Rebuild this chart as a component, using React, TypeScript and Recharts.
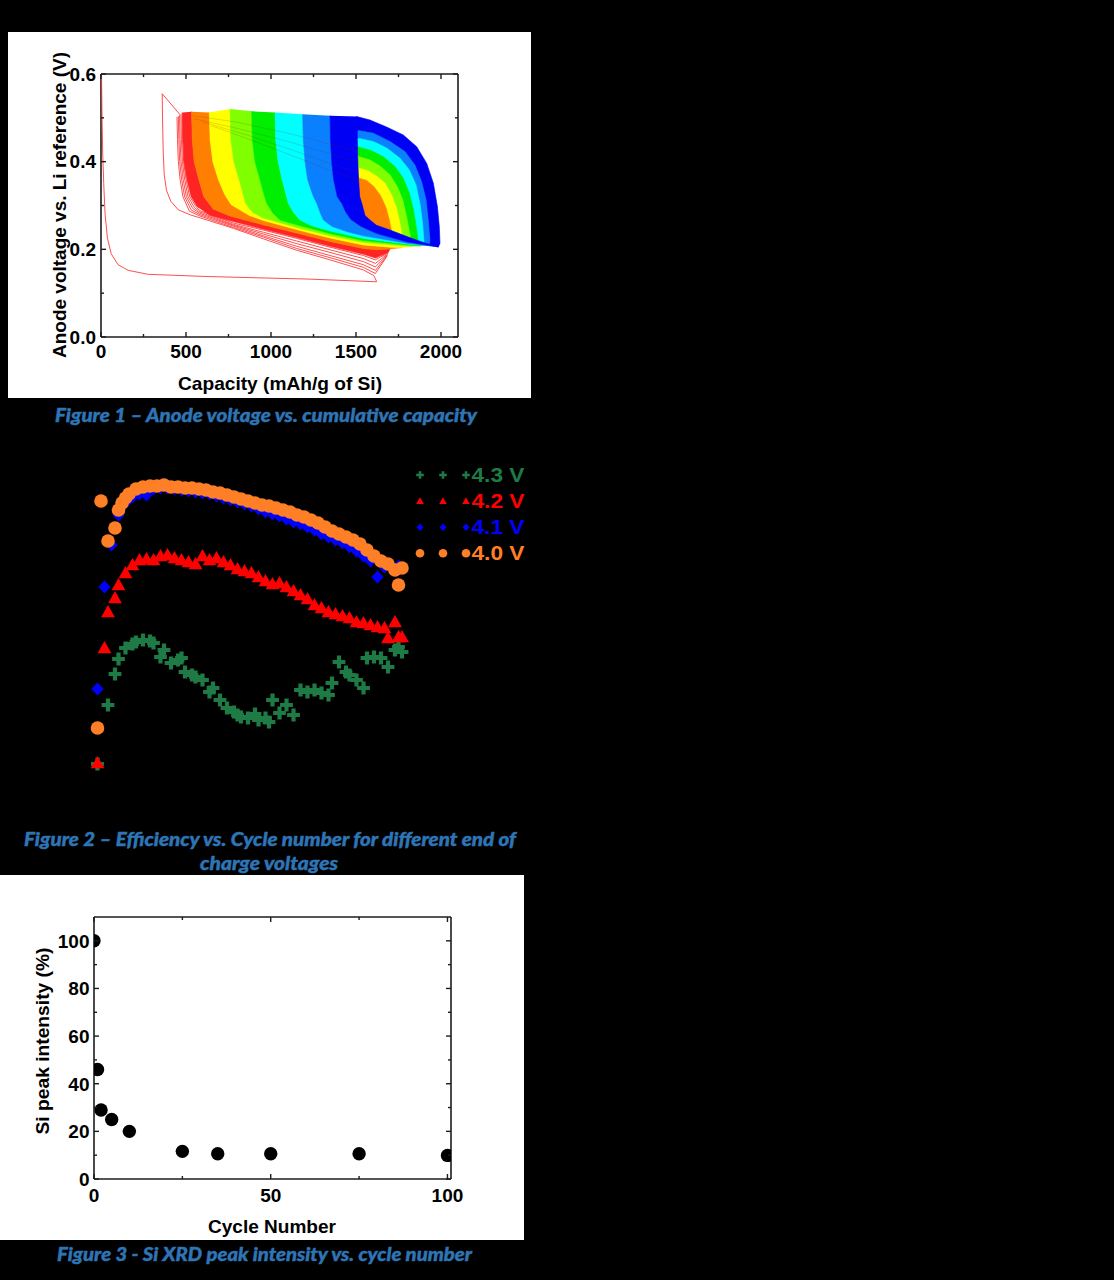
import React from "react";
import { ScatterChart, Scatter, XAxis, YAxis } from "recharts";

type P = [number, number];
const pts = (a: P[]) => a.map(([x, y]) => ({ x, y }));

const FONT = '"Liberation Sans", Arial, sans-serif';
const CAPTION_FONT = 'Lato, "Open Sans", sans-serif';
const CAPTION_COLOR = "#2e75b6";
const INK = "#1c1c1c";
const FRAME = { stroke: INK, strokeWidth: 1.6 };

// ---------------- Figure 1: anode voltage vs capacity ----------------
const capTicks = [0, 250, 500, 750, 1000, 1250, 1500, 1750, 2000];
const capMajor = [0, 500, 1000, 1500, 2000];
const voltTicks = [0, 0.1, 0.2, 0.3, 0.4, 0.5, 0.6];
const voltMajor = [0, 0.2, 0.4, 0.6];

// first cycle and the early, well separated red cycles
const firstLith: P[] = [[3, 0.6], [6, 0.5], [10, 0.42], [16, 0.35], [24, 0.28], [38, 0.225], [60, 0.19], [100, 0.165], [160, 0.152], [278, 0.143], [623, 0.138], [1230, 0.132], [1620, 0.126]];
const firstDelith: P[] = [[1622, 0.126], [1605, 0.14], [1543, 0.153], [1347, 0.176], [1151, 0.198], [955, 0.224], [778, 0.248], [582, 0.272], [530, 0.278], [455, 0.29], [410, 0.31], [385, 0.335], [372, 0.37], [366, 0.42], [362, 0.5], [360, 0.555], [465, 0.507]];
const early1: P[] = [[477, 0.51], [480, 0.45], [486, 0.4], [500, 0.36], [522, 0.32], [560, 0.297], [582, 0.288], [778, 0.26], [955, 0.244], [1151, 0.225], [1347, 0.205], [1543, 0.186], [1614, 0.176], [1690, 0.192]];
const early2: P[] = [[470, 0.508], [473, 0.45], [479, 0.4], [492, 0.36], [512, 0.32], [550, 0.295], [582, 0.285], [778, 0.257], [955, 0.239], [1151, 0.219], [1347, 0.199], [1543, 0.179], [1614, 0.168], [1688, 0.19]];
const early3: P[] = [[462, 0.506], [465, 0.45], [471, 0.4], [483, 0.36], [502, 0.32], [540, 0.293], [582, 0.282], [778, 0.255], [955, 0.235], [1151, 0.213], [1347, 0.193], [1543, 0.172], [1614, 0.16], [1686, 0.188]];
const early4: P[] = [[455, 0.504], [458, 0.45], [463, 0.4], [474, 0.36], [492, 0.32], [530, 0.29], [582, 0.279], [778, 0.253], [955, 0.231], [1151, 0.207], [1347, 0.186], [1543, 0.165], [1614, 0.152], [1684, 0.186]];
const early5: P[] = [[447, 0.502], [450, 0.45], [455, 0.4], [465, 0.36], [482, 0.32], [520, 0.287], [582, 0.276], [778, 0.25], [955, 0.228], [1151, 0.202], [1347, 0.181], [1543, 0.159], [1614, 0.145], [1682, 0.184]];

// lithiation curves bounding each colour band (left/lower edge of each band)
const edgeRed: P[] = [[478, 0.512], [482, 0.45], [488, 0.4], [505, 0.36], [530, 0.32], [565, 0.298], [640, 0.278], [759, 0.265], [955, 0.246], [1151, 0.227], [1347, 0.207], [1543, 0.189], [1615, 0.18], [1690, 0.193]];
const edgeOrange: P[] = [[533, 0.514], [537, 0.45], [548, 0.4], [575, 0.36], [605, 0.32], [660, 0.292], [759, 0.276], [955, 0.256], [1151, 0.237], [1347, 0.218], [1543, 0.202], [1622, 0.199], [1700, 0.201]];
const edgeYellow: P[] = [[637, 0.512], [642, 0.45], [658, 0.4], [690, 0.36], [728, 0.325], [765, 0.302], [870, 0.278], [955, 0.266], [1151, 0.245], [1347, 0.226], [1543, 0.21], [1700, 0.205], [1770, 0.204]];
const edgeLime: P[] = [[759, 0.52], [764, 0.45], [782, 0.4], [812, 0.36], [830, 0.335], [850, 0.305], [890, 0.285], [950, 0.272], [1151, 0.25], [1347, 0.231], [1543, 0.216], [1750, 0.209], [1830, 0.207]];
const edgeGreen: P[] = [[886, 0.515], [890, 0.45], [906, 0.4], [935, 0.36], [955, 0.33], [975, 0.305], [1010, 0.283], [1053, 0.267], [1151, 0.256], [1347, 0.236], [1543, 0.22], [1800, 0.21], [1880, 0.208]];
const edgeCyan: P[] = [[1024, 0.512], [1028, 0.45], [1042, 0.4], [1065, 0.36], [1085, 0.33], [1102, 0.305], [1135, 0.283], [1171, 0.267], [1240, 0.254], [1347, 0.242], [1543, 0.225], [1800, 0.212], [1910, 0.209]];
const edgeAzure: P[] = [[1186, 0.508], [1190, 0.45], [1200, 0.4], [1215, 0.36], [1229, 0.343], [1250, 0.32], [1269, 0.305], [1290, 0.283], [1308, 0.267], [1360, 0.252], [1450, 0.24], [1543, 0.231], [1800, 0.214], [1940, 0.208]];
const edgeBlue: P[] = [[1347, 0.505], [1350, 0.45], [1357, 0.4], [1368, 0.36], [1390, 0.32], [1416, 0.305], [1440, 0.285], [1470, 0.268], [1530, 0.252], [1622, 0.236], [1800, 0.217], [1960, 0.207]];
const edgeEnd: P[] = [[1506, 0.503], [1508, 0.45], [1511, 0.4], [1515, 0.36], [1522, 0.32], [1534, 0.305], [1553, 0.277], [1582, 0.267], [1620, 0.255], [1700, 0.244], [1800, 0.229], [1900, 0.215], [1984, 0.206]];

// delithiation arcs seen right of 1500 mAh/g (outer edge of each ring)
const arcBlue: P[] = [[1504, 0.503], [1582, 0.495], [1680, 0.479], [1778, 0.461], [1857, 0.434], [1916, 0.396], [1955, 0.351], [1979, 0.297], [1990, 0.252], [1994, 0.214], [1984, 0.205]];
const arcAzure: P[] = [[1514, 0.471], [1602, 0.465], [1700, 0.446], [1788, 0.423], [1847, 0.392], [1886, 0.354], [1912, 0.313], [1925, 0.267], [1935, 0.221], [1931, 0.21]];
const arcCyan: P[] = [[1520, 0.453], [1602, 0.446], [1681, 0.431], [1759, 0.408], [1814, 0.381], [1853, 0.347], [1876, 0.305], [1892, 0.259], [1900, 0.217]];
const arcGreen: P[] = [[1520, 0.433], [1592, 0.425], [1661, 0.411], [1729, 0.389], [1778, 0.362], [1814, 0.328], [1838, 0.29], [1857, 0.244], [1866, 0.214]];
const arcLime: P[] = [[1520, 0.411], [1582, 0.404], [1641, 0.39], [1700, 0.37], [1743, 0.343], [1775, 0.313], [1798, 0.274], [1818, 0.233], [1828, 0.214]];
const arcYellow: P[] = [[1520, 0.385], [1572, 0.379], [1622, 0.367], [1671, 0.351], [1710, 0.324], [1739, 0.294], [1759, 0.259], [1775, 0.225]];
const arcOrange: P[] = [[1520, 0.362], [1563, 0.357], [1606, 0.343], [1645, 0.322], [1676, 0.296], [1696, 0.267], [1710, 0.24]];
// closing points tucked inside the last blue band
const ringClosure: P[] = [[1800, 0.223], [1600, 0.246], [1470, 0.3], [1440, 0.46]];

// earlier delithiation curves showing faintly through the bands
const streak1: P[] = [[540, 0.505], [800, 0.49], [1100, 0.465], [1347, 0.44], [1500, 0.425]];
const streak2: P[] = [[545, 0.498], [800, 0.476], [1100, 0.446], [1347, 0.418], [1500, 0.4]];
const streak3: P[] = [[600, 0.49], [850, 0.462], [1100, 0.43], [1347, 0.396], [1500, 0.376]];
const streak4: P[] = [[650, 0.482], [900, 0.447], [1150, 0.41], [1347, 0.38], [1500, 0.36]];

const RED = "#ff2424";
const ORANGE = "#ff8000";
const YELLOW = "#ffff00";
const LIME = "#80ff00";
const GREEN = "#00ee00";
const CYAN = "#00ffff";
const AZURE = "#0a80ff";
const BLUE = "#0000f5";
const bandColors = [RED, ORANGE, YELLOW, LIME, GREEN, CYAN, AZURE, BLUE];
const ringColors = [BLUE, AZURE, CYAN, GREEN, LIME, YELLOW, ORANGE];

// ---------------- Figure 2: efficiency vs cycle ----------------
const eff43: P[] = [[1, 96.91], [4, 97.5], [6, 97.81], [7, 97.96], [9, 98.07], [11, 98.11], [12, 98.13], [14, 98.15], [16, 98.14], [17, 98.12], [19, 97.98], [20, 98.05], [22, 97.92], [24, 97.95], [25, 97.97], [26, 97.83], [28, 97.8], [29, 97.78], [31, 97.75], [33, 97.63], [34, 97.67], [36, 97.55], [38, 97.47], [40, 97.43], [41, 97.4], [42, 97.38], [44, 97.37], [46, 97.41], [47, 97.35], [49, 97.37], [50, 97.33], [51, 97.55], [53, 97.42], [55, 97.5], [57, 97.4], [59, 97.65], [61, 97.63], [63, 97.65], [65, 97.62], [67, 97.6], [68, 97.72], [70, 97.93], [72, 97.83], [73, 97.8], [75, 97.75], [77, 97.67], [78, 97.97], [80, 97.98], [82, 97.97], [84, 97.88], [86, 98.05], [87, 98.08], [88, 98.03]];
const eff42: P[] = [[1, 96.92], [3, 98.07], [4, 98.43], [6, 98.57], [7, 98.7], [9, 98.82], [11, 98.9], [13, 98.95], [15, 98.96], [17, 98.95], [19, 98.99], [21, 99.0], [23, 98.97], [25, 98.95], [27, 98.93], [29, 98.91], [31, 98.99], [33, 98.95], [35, 98.97], [37, 98.93], [39, 98.9], [41, 98.86], [43, 98.84], [45, 98.82], [47, 98.78], [49, 98.74], [51, 98.71], [53, 98.72], [55, 98.68], [57, 98.64], [59, 98.6], [61, 98.56], [63, 98.5], [65, 98.47], [67, 98.43], [69, 98.41], [71, 98.39], [73, 98.37], [75, 98.33], [77, 98.32], [79, 98.3], [81, 98.28], [83, 98.27], [84, 98.17], [86, 98.33], [87, 98.18], [88, 98.18]];
const eff41: P[] = [[1, 97.66], [3, 98.68], [5, 99.1], [7, 99.4], [9, 99.52], [11, 99.58], [13, 99.61], [15, 99.6], [17, 99.66], [19, 99.67], [21, 99.67], [23, 99.66], [25, 99.65], [27, 99.64], [29, 99.63], [31, 99.62], [33, 99.61], [35, 99.59], [37, 99.57], [39, 99.55], [41, 99.53], [43, 99.51], [45, 99.49], [47, 99.46], [49, 99.43], [51, 99.41], [53, 99.39], [55, 99.36], [57, 99.33], [59, 99.31], [61, 99.28], [63, 99.25], [65, 99.21], [67, 99.18], [69, 99.15], [71, 99.12], [73, 99.08], [75, 99.04], [77, 98.99], [79, 98.94], [81, 98.78], [83, 98.88], [85, 98.87], [87, 98.89]];
const eff40: P[] = [[1, 97.27], [2, 99.54], [4, 99.14], [6, 99.27], [7, 99.45], [8, 99.52], [9, 99.57], [10, 99.61], [12, 99.66], [14, 99.68], [16, 99.69], [18, 99.69], [20, 99.7], [22, 99.68], [24, 99.68], [26, 99.67], [28, 99.67], [30, 99.66], [32, 99.65], [34, 99.63], [36, 99.62], [38, 99.6], [40, 99.58], [42, 99.56], [44, 99.54], [46, 99.52], [48, 99.5], [50, 99.49], [52, 99.47], [54, 99.45], [56, 99.43], [58, 99.4], [60, 99.38], [62, 99.35], [64, 99.32], [66, 99.28], [68, 99.24], [70, 99.21], [72, 99.18], [74, 99.15], [76, 99.11], [78, 99.05], [80, 98.99], [82, 98.94], [84, 98.91], [86, 98.85], [87, 98.7], [88, 98.87]];

const C43 = "#1e7b45";
const C42 = "#ff0000";
const C41 = "#0000ff";
const C40 = "#ff7f27";
const legendLabels = ["4.3 V", "4.2 V", "4.1 V", "4.0 V"];
const legendColors = [C43, C42, C41, C40];
const legendKinds = ["plus", "triangle", "diamond", "circle"];

// ---------------- Figure 3: Si XRD peak vs cycle ----------------
const xrdCycles = [0, 1, 2, 5, 10, 25, 35, 50, 75, 100];
const xrdIntensity = [100, 46, 29, 25, 20, 11.6, 10.6, 10.6, 10.6, 9.9];
const cycleTicks = [0, 25, 50, 75, 100];
const cycleMajor = [0, 50, 100];
const pctTicks = [0, 10, 20, 30, 40, 50, 60, 70, 80, 90, 100];
const pctMajor = [0, 20, 40, 60, 80, 100];

// ---------------- helpers ----------------
type Side = "bottom" | "top" | "left" | "right";

function tickRenderer(side: Side, major: number[], fmt: (v: number) => string, gap: number) {
  return function Tick(props: any) {
    const { x, y, payload } = props;
    const v = Number(payload.value);
    const isMajor = major.some((m) => Math.abs(m - v) < 1e-9);
    const len = isMajor ? 5 : 3;
    const ln = { stroke: INK, strokeWidth: 1.4 };
    let mark = null;
    let label = null;
    if (side === "bottom") {
      mark = <line x1={x} y1={y} x2={x} y2={y - len} {...ln} />;
      if (isMajor)
        label = (
          <text x={x} y={y + gap} textAnchor="middle" fontFamily={FONT} fontWeight="bold" fontSize={19} fill="#000">
            {fmt(v)}
          </text>
        );
    } else if (side === "top") {
      mark = <line x1={x} y1={y} x2={x} y2={y + len} {...ln} />;
    } else if (side === "left") {
      mark = <line x1={x} y1={y} x2={x + len} y2={y} {...ln} />;
      if (isMajor)
        label = (
          <text x={x - gap} y={y + 6.8} textAnchor="end" fontFamily={FONT} fontWeight="bold" fontSize={19} fill="#000">
            {fmt(v)}
          </text>
        );
    } else {
      mark = <line x1={x} y1={y} x2={x - len} y2={y} {...ln} />;
    }
    return (
      <g>
        {mark}
        {label}
      </g>
    );
  };
}

const noDot = () => <g />;

function Marker({ kind, cx, cy, color, s }: { kind: string; cx: number; cy: number; color: string; s: number }) {
  if (kind === "plus") {
    const t = s * 0.33;
    return (
      <path
        d={`M${cx - t} ${cy - s}h${2 * t}v${s - t}h${s - t}v${2 * t}h${t - s}v${s - t}h${-2 * t}v${t - s}h${t - s}v${-2 * t}h${s - t}z`}
        fill={color}
      />
    );
  }
  if (kind === "triangle")
    return <path d={`M${cx} ${cy - s}L${cx + s} ${cy + s * 0.75}L${cx - s} ${cy + s * 0.75}Z`} fill={color} />;
  if (kind === "diamond")
    return <path d={`M${cx} ${cy - s}L${cx + s * 0.92} ${cy}L${cx} ${cy + s}L${cx - s * 0.92} ${cy}Z`} fill={color} />;
  return <circle cx={cx} cy={cy} r={s} fill={color} />;
}

const shapeOf = (kind: string, color: string, s: number) => (p: any) =>
  <Marker kind={kind} cx={p.cx} cy={p.cy} color={color} s={s} />;

// ---------------- charts ----------------
function CapacityChart() {
  const edges = [edgeRed, edgeOrange, edgeYellow, edgeLime, edgeGreen, edgeCyan, edgeAzure, edgeBlue, edgeEnd];
  const strips = bandColors.map((color, i) => ({
    color,
    data: pts([...edges[i], ...[...edges[i + 1]].reverse()]),
  }));
  const rings = [arcBlue, arcAzure, arcCyan, arcGreen, arcLime, arcYellow, arcOrange].map((a, i) => ({
    color: ringColors[i],
    data: pts([...a, ...ringClosure]),
  }));
  const thin = [firstLith, firstDelith, early5, early4, early3, early2, early1].map(pts);
  const streaks = [streak1, streak2, streak3, streak4].map(pts);

  return (
    <ScatterChart width={523} height={366} margin={{ top: 0, right: 0, bottom: 0, left: 0 }}>
      <XAxis xAxisId="b" type="number" dataKey="x" domain={[0, 2100]} ticks={capTicks} interval={0} height={61}
        tickSize={0} tickMargin={0} tickLine={false} axisLine={FRAME} allowDataOverflow
        tick={tickRenderer("bottom", capMajor, (v) => String(v), 21)} />
      <XAxis xAxisId="t" orientation="top" type="number" dataKey="x" domain={[0, 2100]} ticks={capTicks} interval={0}
        height={42} tickSize={0} tickMargin={0} tickLine={false} axisLine={FRAME} allowDataOverflow
        tick={tickRenderer("top", capMajor, (v) => String(v), 0)} />
      <YAxis yAxisId="l" type="number" dataKey="y" domain={[0, 0.6]} ticks={voltTicks} interval={0} width={93}
        tickSize={0} tickMargin={0} tickLine={false} axisLine={FRAME} allowDataOverflow
        tick={tickRenderer("left", voltMajor, (v) => v.toFixed(1), 5)} />
      <YAxis yAxisId="r" orientation="right" type="number" dataKey="y" domain={[0, 0.6]} ticks={voltTicks} interval={0}
        width={73} tickSize={0} tickMargin={0} tickLine={false} axisLine={FRAME} allowDataOverflow
        tick={tickRenderer("right", voltMajor, (v) => v.toFixed(1), 0)} />
      {rings.map((r, i) => (
        <Scatter key={`ring${i}`} xAxisId="b" yAxisId="l" data={r.data} shape={noDot}
          line={{ stroke: r.color, strokeWidth: 0.6, fill: r.color }} isAnimationActive={false} />
      ))}
      {thin.map((d, i) => (
        <Scatter key={`thin${i}`} xAxisId="b" yAxisId="l" data={d} shape={noDot}
          line={{ stroke: "#ff3a3a", strokeWidth: 0.9, fill: "none" }} isAnimationActive={false} />
      ))}
      {strips.map((s, i) => (
        <Scatter key={`band${i}`} xAxisId="b" yAxisId="l" data={s.data} shape={noDot}
          line={{ stroke: s.color, strokeWidth: 0.6, fill: s.color }} isAnimationActive={false} />
      ))}
      {streaks.map((d, i) => (
        <Scatter key={`streak${i}`} xAxisId="b" yAxisId="l" data={d} shape={noDot}
          line={{ stroke: "#7a2a00", strokeWidth: 0.8, strokeOpacity: 0.22, fill: "none" }} isAnimationActive={false} />
      ))}
    </ScatterChart>
  );
}

function EfficiencyChart() {
  const series = [
    { data: eff43, kind: "plus", color: C43, s: 6.4 },
    { data: eff42, kind: "triangle", color: C42, s: 6.9 },
    { data: eff41, kind: "diamond", color: C41, s: 6.6 },
    { data: eff40, kind: "circle", color: C40, s: 6.8 },
  ];
  return (
    <ScatterChart width={390} height={380} margin={{ top: 20, right: 20, bottom: 20, left: 20 }}>
      <XAxis type="number" dataKey="x" domain={[0, 100]} hide />
      <YAxis type="number" dataKey="y" domain={[96.6, 100]} hide />
      {series.map((s, i) => (
        <Scatter key={i} data={pts(s.data)} shape={shapeOf(s.kind, s.color, s.s)} fill={s.color} isAnimationActive={false} />
      ))}
    </ScatterChart>
  );
}

function XrdChart() {
  const data = xrdCycles.map((c, i) => ({ x: c, y: xrdIntensity[i] }));
  return (
    <ScatterChart width={524} height={365} margin={{ top: 0, right: 0, bottom: 0, left: 0 }}>
      <XAxis xAxisId="b" type="number" dataKey="x" domain={[0, 101]} ticks={cycleTicks} interval={0} height={61}
        tickSize={0} tickMargin={0} tickLine={false} axisLine={FRAME} allowDataOverflow
        tick={tickRenderer("bottom", cycleMajor, (v) => String(v), 22.5)} />
      <XAxis xAxisId="t" orientation="top" type="number" dataKey="x" domain={[0, 101]} ticks={cycleTicks} interval={0}
        height={42} tickSize={0} tickMargin={0} tickLine={false} axisLine={FRAME} allowDataOverflow
        tick={tickRenderer("top", cycleMajor, (v) => String(v), 0)} />
      <YAxis yAxisId="l" type="number" dataKey="y" domain={[0, 110]} ticks={pctTicks} interval={0} width={94}
        tickSize={0} tickMargin={0} tickLine={false} axisLine={FRAME} allowDataOverflow
        tick={tickRenderer("left", pctMajor, (v) => String(v), 4.5)} />
      <YAxis yAxisId="r" orientation="right" type="number" dataKey="y" domain={[0, 110]} ticks={pctTicks} interval={0}
        width={73} tickSize={0} tickMargin={0} tickLine={false} axisLine={FRAME} allowDataOverflow
        tick={tickRenderer("right", pctMajor, (v) => String(v), 0)} />
      <Scatter xAxisId="b" yAxisId="l" data={data} shape={shapeOf("circle", "#000", 6.7)} fill="#000" isAnimationActive={false} />
    </ScatterChart>
  );
}

function Overlay() {
  const title = { fontFamily: FONT, fontWeight: "bold" as const, fontSize: 19, fill: "#000" };
  const cap = {
    fontFamily: CAPTION_FONT,
    fontStyle: "italic" as const,
    fontWeight: 900,
    fontSize: 19,
    fill: CAPTION_COLOR,
    stroke: CAPTION_COLOR,
    strokeWidth: 0.45,
    textAnchor: "middle" as const,
    lengthAdjust: "spacingAndGlyphs",
  };
  return (
    <svg width={1114} height={1280} style={{ position: "absolute", left: 0, top: 0, pointerEvents: "none" }}>
      {/* figure 1 titles */}
      <text x={280} y={389.5} textAnchor="middle" textLength={204} lengthAdjust="spacingAndGlyphs" {...title}>
        Capacity (mAh/g of Si)
      </text>
      <text transform="translate(66,205) rotate(-90)" textAnchor="middle" textLength={306} lengthAdjust="spacingAndGlyphs" {...title}>
        Anode voltage vs. Li reference (V)
      </text>
      <text x={266} y={422} textLength={422} {...cap}>
        Figure 1 – Anode voltage vs. cumulative capacity
      </text>

      {/* figure 2 legend */}
      {legendLabels.map((lab, i) => {
        const cy = 475 + i * 26.1;
        const c = legendColors[i];
        const k = legendKinds[i];
        const s = k === "circle" ? 4.3 : 3.8;
        return (
          <g key={lab}>
            <Marker kind={k} cx={420} cy={cy} color={c} s={s} />
            <Marker kind={k} cx={443} cy={cy} color={c} s={s} />
            <Marker kind={k} cx={466} cy={cy} color={c} s={s} />
            <text x={471.5} y={cy + 6.8} textLength={53} lengthAdjust="spacingAndGlyphs" fontFamily={FONT}
              fontWeight="bold" fontSize={19.5} fill={c}>
              {lab}
            </text>
          </g>
        );
      })}
      <text x={270} y={846} textLength={492} {...cap}>
        Figure 2 – Efficiency vs. Cycle number for different end of
      </text>
      <text x={269} y={870} textLength={138} {...cap}>
        charge voltages
      </text>

      {/* figure 3 titles */}
      <text x={272} y={1233} textAnchor="middle" textLength={128} lengthAdjust="spacingAndGlyphs" {...title}>
        Cycle Number
      </text>
      <text transform="translate(49,1041) rotate(-90)" textAnchor="middle" textLength={187} lengthAdjust="spacingAndGlyphs" {...title}>
        Si peak intensity (%)
      </text>
      <text x={264.5} y={1261} textLength={415} {...cap}>
        Figure 3 - Si XRD peak intensity vs. cycle number
      </text>
    </svg>
  );
}

export default function App() {
  return (
    <div style={{ position: "absolute", left: 0, top: 0, width: 1114, height: 1280, background: "#000", overflow: "hidden" }}>
      <div style={{ position: "absolute", left: 8, top: 32, width: 523, height: 366, background: "#fff" }}>
        <CapacityChart />
      </div>
      <div style={{ position: "absolute", left: 73.5, top: 435, width: 390, height: 380 }}>
        <EfficiencyChart />
      </div>
      <div style={{ position: "absolute", left: 0, top: 875, width: 524, height: 365, background: "#fff" }}>
        <XrdChart />
      </div>
      <Overlay />
    </div>
  );
}
